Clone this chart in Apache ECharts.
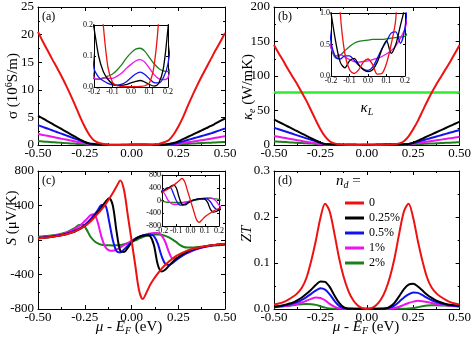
<!DOCTYPE html>
<html><head><meta charset="utf-8">
<script src="https://cdn.jsdelivr.net/npm/echarts@6/dist/echarts.min.js"></script>
<style>html,body{margin:0;padding:0;background:#fff}#c{width:474px;height:339px}</style>
</head><body><div id="c"></div><script>
const FONT = '"Liberation Serif","Times New Roman",Times,serif';

// doping levels n_d and their line colours
const DOPING = ['0', '0.25%', '0.5%', '1%', '2%'];
const COLORS = ['#ee1111', '#000000', '#1212ee', '#ee12ee', '#1a801a'];

// chemical potential grids (eV)
const E_MAIN = [-0.5,-0.475,-0.45,-0.425,-0.4,-0.375,-0.35,-0.325,-0.3,-0.275,-0.25,-0.225,-0.2,-0.175,-0.15,-0.125,-0.1,-0.075,-0.05,-0.025,0,0.025,0.05,0.075,0.1,0.125,0.15,0.175,0.2,0.225,0.25,0.275,0.3,0.325,0.35,0.375,0.4,0.425,0.45,0.475,0.5];
const E_S = [-0.5,-0.48,-0.46,-0.44,-0.42,-0.4,-0.38,-0.36,-0.34,-0.32,-0.3,-0.28,-0.26,-0.24,-0.22,-0.2,-0.18,-0.16,-0.14,-0.12,-0.1,-0.08,-0.06,-0.04,-0.02,0,0.02,0.04,0.06,0.08,0.1,0.12,0.14,0.16,0.18,0.2,0.22,0.24,0.26,0.28,0.3,0.32,0.34,0.36,0.38,0.4,0.42,0.44,0.46,0.48,0.5];

// (a) electrical conductivity sigma, 10^6 S/m
const SIGMA_0   = [20.5,18.8,17.2,15.6,14.1,12.5,10.8,9.0,7.1,5.1,3.3,1.8,0.8,0.38,0.2,0.065,0.015,0.004,0.002,0.001,0.001,0.001,0.002,0.004,0.014,0.07,0.22,0.5,0.9,1.9,3.3,5.0,7.0,8.9,10.7,12.4,14.0,15.6,17.2,18.7,20.3];
const SIGMA_025 = [5.3,4.82,4.34,3.86,3.38,2.9,2.42,1.94,1.46,0.98,0.55,0.27,0.19,0.1,0.05,0.025,0.01,0.005,0.005,0.008,0.013,0.018,0.021,0.016,0.008,0.003,0.012,0.06,0.19,0.35,0.65,1.05,1.45,1.85,2.25,2.65,3.05,3.45,3.9,4.35,4.8];
const SIGMA_05  = [3.6,3.29,2.98,2.67,2.36,2.05,1.74,1.43,1.12,0.82,0.52,0.25,0.06,0.032,0.02,0.012,0.007,0.006,0.009,0.017,0.03,0.042,0.048,0.04,0.026,0.014,0.013,0.03,0.075,0.2,0.42,0.66,0.9,1.14,1.38,1.62,1.86,2.1,2.4,2.7,3.0];
const SIGMA_1   = [2.0,1.83,1.66,1.49,1.32,1.15,0.98,0.81,0.64,0.47,0.3,0.14,0.03,0.025,0.03,0.028,0.028,0.035,0.045,0.06,0.073,0.084,0.088,0.08,0.06,0.04,0.027,0.024,0.03,0.1,0.22,0.35,0.48,0.61,0.74,0.87,1.0,1.15,1.3,1.45,1.6];
const SIGMA_2   = [0.7,0.64,0.58,0.52,0.46,0.4,0.34,0.28,0.22,0.16,0.1,0.05,0.026,0.025,0.028,0.035,0.042,0.055,0.072,0.093,0.11,0.122,0.125,0.115,0.095,0.075,0.06,0.052,0.05,0.07,0.11,0.16,0.2,0.25,0.3,0.35,0.39,0.43,0.47,0.51,0.55];

// (b) electronic thermal conductivity kappa_e, W/mK
const KAPPA_0   = [145,133,122,110,99,88,76,64,50,36,23,12.5,5.5,2.4,1.0,0.35,0.1,0.04,0.1,0.22,0.27,0.18,0.03,0.04,0.2,0.5,0.9,2.4,5.5,12.5,23,35,49,63,76,88,99,110,121,133,145];
const KAPPA_025 = [37,33.6,30.2,26.8,23.4,20,16.6,13.2,9.8,6.5,3.5,1.4,1.0,0.55,0.22,0.13,0.24,0.28,0.18,0.1,0.07,0.1,0.22,0.42,0.56,0.36,0.5,0.8,1.1,1.5,3.3,6.2,9.3,12.4,15.5,18.5,21.5,24.6,27.7,30.8,33.8];
const KAPPA_05  = [25,22.8,20.6,18.4,16.2,14,11.8,9.6,7.4,5.2,3.1,1.3,0.55,0.3,0.27,0.32,0.32,0.25,0.17,0.11,0.09,0.14,0.28,0.43,0.55,0.68,0.7,0.52,0.77,1.5,2.8,4.7,6.6,8.5,10.4,12.3,14.2,16.1,18,19.9,21.8];
const KAPPA_1   = [13,11.8,10.6,9.4,8.2,7.0,5.8,4.6,3.5,2.4,1.4,0.7,0.45,0.32,0.34,0.3,0.26,0.23,0.22,0.23,0.24,0.26,0.28,0.31,0.35,0.4,0.48,0.6,0.75,1.1,1.8,2.8,3.8,4.8,5.8,6.8,7.8,8.8,9.8,10.8,11.8];
const KAPPA_2   = [5.2,4.8,4.4,4.0,3.6,3.2,2.8,2.4,2.0,1.6,1.2,0.8,0.45,0.29,0.33,0.4,0.47,0.52,0.55,0.56,0.57,0.58,0.58,0.58,0.59,0.6,0.61,0.62,0.63,0.75,1.0,1.3,1.6,1.9,2.2,2.5,2.8,3.1,3.4,3.7,4.0];
const KAPPA_L = 76;

// (c) Seebeck coefficient S, uV/K
const S_0   = [18,22,27,32,38,45,53,62,73,87,103,122,148,178,215,258,305,355,410,475,545,620,690,580,290,0,-290,-580,-685,-610,-520,-450,-390,-335,-290,-250,-215,-185,-160,-140,-122,-108,-96,-87,-78,-71,-64,-58,-53,-48,-44];
const S_025 = [20,24,28,33,39,45,53,62,73,86,102,122,148,180,220,268,322,380,440,485,400,100,-125,-140,-90,-30,10,35,50,55,45,-60,-280,-365,-345,-300,-255,-215,-182,-155,-133,-115,-101,-90,-80,-72,-65,-59,-54,-50,-46];
const S_05  = [22,26,30,36,42,49,57,67,79,93,110,132,160,195,240,290,348,405,400,220,0,-130,-145,-110,-65,-25,10,35,52,62,65,45,-40,-180,-275,-290,-265,-230,-198,-170,-146,-125,-109,-95,-84,-74,-66,-59,-54,-49,-45];
const S_1   = [25,29,34,40,47,55,65,77,92,110,133,162,198,240,285,300,200,30,-80,-120,-125,-110,-85,-60,-35,-10,15,35,52,65,75,80,80,55,-20,-140,-215,-215,-195,-172,-150,-130,-113,-98,-86,-76,-68,-61,-55,-50,-46];
const S_2   = [38,42,46,50,55,61,70,82,98,120,145,175,178,120,40,-10,-40,-55,-60,-62,-63,-62,-58,-50,-38,-22,-5,15,35,50,60,65,65,60,48,30,5,-25,-60,-82,-88,-88,-85,-81,-77,-73,-69,-65,-62,-59,-56];

// (d) figure of merit ZT
const ZT_0   = [0.010,0.012,0.015,0.02,0.026,0.034,0.046,0.068,0.104,0.148,0.198,0.229,0.212,0.165,0.112,0.07,0.04,0.02,0.008,0.002,0,0.002,0.008,0.02,0.04,0.07,0.112,0.165,0.212,0.229,0.198,0.148,0.104,0.068,0.046,0.034,0.026,0.02,0.015,0.012,0.010];
const ZT_025 = [0.005,0.006,0.008,0.011,0.014,0.019,0.025,0.033,0.042,0.052,0.06,0.059,0.048,0.03,0.014,0.004,0.0005,0.0003,0.0002,0.0001,0.0001,0.0001,0.0002,0.0003,0.001,0.005,0.014,0.028,0.043,0.053,0.055,0.049,0.04,0.031,0.024,0.018,0.014,0.011,0.009,0.008,0.007];
const ZT_05  = [0.005,0.006,0.007,0.009,0.012,0.015,0.02,0.026,0.033,0.04,0.045,0.042,0.032,0.018,0.007,0.002,0.0008,0.0005,0.0004,0.0004,0.0004,0.0004,0.0004,0.0005,0.001,0.003,0.008,0.016,0.025,0.032,0.036,0.035,0.03,0.024,0.019,0.015,0.012,0.01,0.008,0.007,0.006];
const ZT_1   = [0.004,0.005,0.006,0.007,0.009,0.011,0.014,0.018,0.022,0.025,0.024,0.019,0.011,0.005,0.0015,0.0008,0.0006,0.0006,0.0006,0.0006,0.0006,0.0006,0.0006,0.0006,0.0007,0.001,0.002,0.005,0.009,0.013,0.016,0.018,0.017,0.015,0.013,0.011,0.009,0.008,0.007,0.006,0.005];
const ZT_2   = [0.004,0.005,0.006,0.007,0.008,0.0095,0.0105,0.011,0.0105,0.009,0.006,0.003,0.001,0.0006,0.0005,0.0005,0.0005,0.0005,0.0005,0.0005,0.0005,0.0005,0.0005,0.0005,0.0005,0.0005,0.0005,0.0005,0.0005,0.001,0.002,0.004,0.006,0.0075,0.008,0.008,0.0078,0.0074,0.007,0.0066,0.0062];

const SIGMA_SET = [SIGMA_0, SIGMA_025, SIGMA_05, SIGMA_1, SIGMA_2];
const KAPPA_SET = [KAPPA_0, KAPPA_025, KAPPA_05, KAPPA_1, KAPPA_2];
const S_SET = [S_0, S_025, S_05, S_1, S_2];
const ZT_SET = [ZT_0, ZT_025, ZT_05, ZT_1, ZT_2];

const grids = [], xAxes = [], yAxes = [], series = [];
const fix = d => v => (Math.abs(v) < 1e-9 ? 0 : v).toFixed(d);
const int = v => String(Math.round(v));

function addPanel(box, xr, yr, o) {
  const gi = grids.length;
  grids.push({left: box[0], top: box[1], width: box[2], height: box[3], show: true,
    backgroundColor: o.inset ? '#fff' : 'transparent', borderWidth: 0, z: o.inset ? 5 : 0});
  const base = r => ({
    type: 'value', gridIndex: gi, min: r[0], max: r[1], interval: r[2],
    splitLine: {show: false}, minorSplitLine: {show: false},
    axisLine: {show: true, onZero: false, lineStyle: {color: '#000', width: 1}},
    axisTick: {show: true, inside: true, length: o.tick, lineStyle: {color: '#000', width: 1}},
    minorTick: {show: o.minor, splitNumber: 2, length: Math.round(o.tick * 0.6), lineStyle: {color: '#000', width: 1}},
    z: o.inset ? 6 : 1
  });
  const lab = (fmt, m) => ({show: true, fontFamily: FONT, fontSize: o.font, color: '#000', margin: m, formatter: fmt});
  const xi = xAxes.length, yi = yAxes.length;
  xAxes.push(Object.assign(base(xr), {position: 'bottom', axisLabel: lab(o.xfmt, o.xm)}));
  xAxes.push(Object.assign(base(xr), {position: 'top', axisLabel: {show: false}}));
  yAxes.push(Object.assign(base(yr), {position: 'left', axisLabel: lab(o.yfmt, o.ym)}));
  yAxes.push(Object.assign(base(yr), {position: 'right', axisLabel: {show: false}}));
  return {xi, yi, inset: o.inset};
}

function addCurves(ax, xs, sets, width) {
  for (let k = sets.length - 1; k >= 0; k--) {
    series.push({
      type: 'line', name: DOPING[k], xAxisIndex: ax.xi, yAxisIndex: ax.yi,
      data: xs.map((x, i) => [x, sets[k][i]]),
      symbol: 'none', smooth: 0.3, clip: true, silent: true,
      lineStyle: {color: COLORS[k], width: width}, itemStyle: {color: COLORS[k]},
      z: (ax.inset ? 10 : 2) + (sets.length - k)
    });
  }
}

const MAIN = {tick: 4, minor: true, font: 13, xm: 2, ym: 4, xfmt: fix(2), inset: false};
const INSET = {tick: 2, minor: false, font: 8, xm: 1, ym: 1, xfmt: fix(1), yfmt: fix(1), inset: true};

const pA = addPanel([38, 7, 187, 138], [-0.5, 0.5, 0.25], [0, 25, 5], Object.assign({}, MAIN, {yfmt: int}));
const pB = addPanel([274, 7, 187, 138], [-0.5, 0.5, 0.25], [0, 200, 50], Object.assign({}, MAIN, {yfmt: int}));
const pC = addPanel([38, 171, 187, 138], [-0.5, 0.5, 0.25], [-800, 800, 400], Object.assign({}, MAIN, {yfmt: int}));
const pD = addPanel([274, 171, 187, 138], [-0.5, 0.5, 0.25], [0, 0.3, 0.1], Object.assign({}, MAIN, {yfmt: fix(1)}));
const iA = addPanel([94, 25, 74, 62], [-0.2, 0.2, 0.1], [0, 0.2, 0.1], INSET);
const iB = addPanel([331, 13, 74, 63], [-0.2, 0.2, 0.1], [0, 1.0, 0.5], INSET);
const iC = addPanel([162, 175, 57, 51], [-0.2, 0.2, 0.1], [-800, 800, 400], Object.assign({}, INSET, {yfmt: int}));

// lattice thermal conductivity reference line
series.push({
  type: 'line', name: 'kappaL', xAxisIndex: pB.xi, yAxisIndex: pB.yi,
  data: [[-0.5, KAPPA_L], [0.5, KAPPA_L]], symbol: 'none', silent: true,
  lineStyle: {color: '#2cec2c', width: 2.5}, z: 2
});
addCurves(pA, E_MAIN, SIGMA_SET, 2);
addCurves(pB, E_MAIN, KAPPA_SET, 2);
addCurves(pC, E_S, S_SET, 2);
addCurves(pD, E_MAIN, ZT_SET, 2);
addCurves(iA, E_MAIN, SIGMA_SET, 1.3);
addCurves(iB, E_MAIN, KAPPA_SET, 1.3);
addCurves(iC, E_S, S_SET, 1.3);

const R = {
  a: {fontFamily: FONT, fontSize: 15, fill: '#000', lineHeight: 18, verticalAlign: 'middle'},
  i: {fontFamily: FONT, fontSize: 15, fill: '#000', lineHeight: 18, verticalAlign: 'middle', fontStyle: 'italic'},
  s: {fontFamily: FONT, fontSize: 10, fill: '#000', lineHeight: 10, verticalAlign: 'top'},
  b: {fontFamily: FONT, fontSize: 10, fill: '#000', lineHeight: 10, verticalAlign: 'bottom', fontStyle: 'italic'}
};
function rich(x, y, text, opts) {
  opts = opts || {};
  return {type: 'text', x: x, y: y, rotation: opts.rot || 0, z: 100, silent: true,
    style: {text: text, rich: R, align: opts.align || 'center', verticalAlign: 'middle'}};
}
function plain(x, y, text) {
  return {type: 'text', x: x, y: y, z: 100, silent: true,
    style: {text: text, fontFamily: FONT, fontSize: 12, fill: '#000', align: 'left', verticalAlign: 'middle'}};
}

const graphic = [
  plain(42, 17, '(a)'), plain(278, 17, '(b)'), plain(42, 181, '(c)'), plain(278, 181, '(d)'),
  rich(13, 86, '{a|σ (10}{s|6}{a|S/m)}', {rot: Math.PI / 2}),
  rich(248, 87, '{i|κ}{b|e}{a| (W/mK)}', {rot: Math.PI / 2}),
  rich(12, 218, '{i|S}{a| (μV/K)}', {rot: Math.PI / 2}),
  rich(247, 234, '{i|ZT}', {rot: Math.PI / 2}),
  rich(129, 327, '{i|μ}{a| - }{i|E}{b|F}{a| (eV)}'),
  rich(366, 327, '{i|μ}{a| - }{i|E}{b|F}{a| (eV)}'),
  rich(367, 108, '{i|κ}{b|L}'),
  rich(336, 181, '{i|n}{b|d}{a| =}', {align: 'left'})
];

const chart = echarts.init(document.getElementById('c'), null, {renderer: 'canvas'});
chart.setOption({
  animation: false,
  backgroundColor: '#fff',
  textStyle: {fontFamily: FONT},
  grid: grids, xAxis: xAxes, yAxis: yAxes, series: series,
  legend: {
    data: DOPING, orient: 'vertical', left: 340, top: 191.5, icon: 'rect',
    itemWidth: 19, itemHeight: 3, itemGap: 2, selectedMode: false,
    textStyle: {fontFamily: FONT, fontSize: 12, lineHeight: 13, color: '#000'}
  },
  graphic: graphic
});
</script></body></html>
